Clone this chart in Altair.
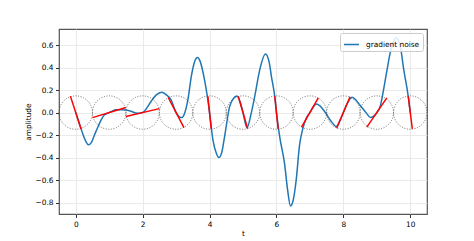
import altair as alt
import pandas as pd

# ---- data ----
t_vals = [0.00, 0.10, 0.20, 0.30, 0.38, 0.46, 0.56, 0.66, 0.76, 0.86,
          1.00, 1.10, 1.20, 1.35, 1.50, 1.65, 1.80, 1.90, 2.00, 2.10,
          2.25, 2.40, 2.57, 2.70, 2.85, 3.00, 3.10, 3.17, 3.25, 3.35,
          3.46, 3.55, 3.64, 3.72, 3.85, 3.93, 4.00, 4.10, 4.20, 4.28,
          4.36, 4.45, 4.60, 4.70, 4.82, 4.92, 5.00, 5.12, 5.25, 5.35,
          5.50, 5.67, 5.78, 5.85, 5.95, 6.00, 6.10, 6.24, 6.33, 6.42,
          6.50, 6.59, 6.69, 6.79, 6.89, 7.00, 7.10, 7.20, 7.30, 7.44,
          7.64, 7.79, 7.90, 8.00, 8.10, 8.26, 8.38, 8.49, 8.69, 8.81,
          8.92, 9.00, 9.10, 9.20, 9.30, 9.40, 9.50, 9.58, 9.65, 9.72,
          9.80, 9.90, 9.95, 10.00]
amp_vals = [0.000, -0.090, -0.180, -0.255, -0.287, -0.270, -0.200, -0.130, -0.065, -0.020,
            0.000, 0.015, 0.024, 0.026, 0.022, 0.012, -0.004, -0.006, 0.000, 0.030,
            0.098, 0.155, 0.181, 0.160, 0.113, 0.000, -0.038, -0.045, -0.010, 0.110,
            0.330, 0.450, 0.490, 0.455, 0.290, 0.150, 0.000, -0.240, -0.360, -0.400,
            -0.360, -0.213, 0.053, 0.120, 0.148, 0.090, 0.000, -0.135, 0.000, 0.142,
            0.379, 0.520, 0.450, 0.320, 0.142, 0.000, -0.220, -0.450, -0.680, -0.830,
            -0.780, -0.600, -0.290, -0.140, -0.050, 0.000, 0.050, 0.077, 0.060, 0.009,
            -0.080, -0.124, -0.070, 0.000, 0.070, 0.137, 0.110, 0.068, -0.005, -0.044,
            -0.030, 0.000, 0.055, 0.200, 0.370, 0.530, 0.630, 0.666, 0.640, 0.560,
            0.390, 0.220, 0.120, 0.000]

centers = list(range(11))
# half-extent of each red gradient segment (right end relative to the centre)
grad_dt = [0.16, 0.50, 0.50, 0.235, 0.05, 0.14, 0.05, 0.25, 0.20, 0.30, 0.06]
grad_dv = [-0.146, 0.045, 0.035, -0.134, -0.145, -0.143, -0.145, 0.13, 0.14, 0.13, -0.145]

x_ticks = [0, 2, 4, 6, 8, 10]
y_ticks = [-0.8, -0.6, -0.4, -0.2, 0.0, 0.2, 0.4, 0.6]
series_name = "gradient noise"

curve = pd.DataFrame({"t": t_vals, "amp": amp_vals, "series": series_name})
grads = pd.DataFrame({
    "t": [c - d for c, d in zip(centers, grad_dt)],
    "t1": [c + d for c, d in zip(centers, grad_dt)],
    "amp": [-v for v in grad_dv],
    "amp1": grad_dv,
})
circles = pd.DataFrame({"t": centers, "amp": [0.0] * len(centers)})

FONT = "DejaVu Sans"
FS = 7.4

xscale = alt.Scale(domain=[-0.5, 10.5], nice=False, zero=False)
yscale = alt.Scale(domain=[-0.902, 0.743], nice=False, zero=False)

xaxis = alt.Axis(values=x_ticks, title="t", grid=True, format="d",
                 tickSize=3.5, labelPadding=2.5, titleY=21.5, titleBaseline="alphabetic")
yaxis = alt.Axis(values=y_ticks, title="amplitude", grid=True,
                 labelExpr="replace(format(datum.value, '.1f'), '-', '\u2212')",
                 tickSize=3.5, labelPadding=2.5, titleX=-30.5, titleY=92.6,
                 titleBaseline="middle", titleAngle=270)

X = alt.X("t:Q", scale=xscale, axis=xaxis, title="t")
Y = alt.Y("amp:Q", scale=yscale, axis=yaxis, title="amplitude")

line = alt.Chart(curve).mark_line(strokeWidth=1.5, interpolate="monotone").encode(
    x=X, y=Y,
    color=alt.Color("series:N",
                    scale=alt.Scale(domain=[series_name], range=["#1f77b4"]),
                    legend=alt.Legend(orient="top-right", title=None, offset=4,
                                      padding=3, fillColor="rgba(255,255,255,0.85)",
                                      strokeColor="#cccccc", cornerRadius=2,
                                      symbolType="stroke", symbolSize=225,
                                      symbolStrokeWidth=1.5, labelFont=FONT,
                                      labelFontSize=FS, labelColor="#000000",
                                      labelOffset=6)),
)

rings = alt.Chart(circles).mark_point(shape="circle", size=1116, filled=False,
                                      color="#444444", strokeWidth=0.9,
                                      strokeDash=[1, 1.6], opacity=0.85).encode(
    x=X, y=Y,
)

rules = alt.Chart(grads).mark_rule(color="#ff0000", strokeWidth=1.5).encode(
    x=X, x2="t1:Q", y=Y, y2="amp1:Q",
)

chart = alt.layer(line, rings, rules).properties(
    width=368, height=185,
    autosize=alt.AutoSizeParams(type="none"),
    padding={"left": 59, "top": 29, "right": 47, "bottom": 27},
).configure_view(
    stroke="#555555", strokeWidth=1.2
).configure_axis(
    domain=False, tickColor="#333333", tickWidth=1,
    labelFont=FONT, labelFontSize=FS, labelColor="#000000",
    titleFont=FONT, titleFontSize=FS, titleFontWeight="normal", titleColor="#000000",
    gridColor="#e4e4e4", gridWidth=0.8,
)

chart.save("out.html", embed_options={"renderer": "svg", "actions": False})
